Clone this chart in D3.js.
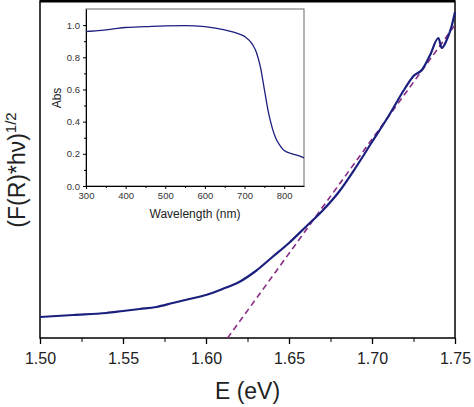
<!DOCTYPE html>
<html><head><meta charset="utf-8">
<script src="https://cdn.jsdelivr.net/npm/d3@7"></script>
<style>body{margin:0;background:#fff}text{font-family:Arial,"Liberation Sans",sans-serif}</style>
</head><body>
<svg id="c" width="474" height="407"></svg>
<script>
// main curve: energy (eV) vs (F(R)*hv)^1/2 (arbitrary units)
const mainE = [1.50,1.52,1.54,1.55,1.56,1.57,1.58,1.59,1.60,1.61,1.62,1.63,1.64,1.65,1.66,1.67,1.68,1.69,1.70,1.71,1.72,1.725,1.73,1.735,1.74,1.742,1.745,1.748,1.75];
const mainV = [21,23,25,27,29,31,35,39,43,49,56,67,81,95,111,127,146,170,196,222,250,262,268,283,300,290,298,312,326];
const fitE = [1.613,1.75];
const fitV = [0,313];
// inset: absorbance vs wavelength
const wl  = [300,330,350,380,400,450,500,550,600,650,680,700,720,730,740,750,760,770,780,790,800,820,840,850];
const abs = [0.96,0.965,0.97,0.98,0.985,0.99,0.995,0.997,0.99,0.97,0.95,0.93,0.88,0.83,0.74,0.6,0.46,0.36,0.29,0.25,0.22,0.2,0.185,0.175];
const xTicks = [1.50,1.55,1.60,1.65,1.70,1.75];
const insetXTicks = [300,400,500,600,700,800];
const insetYTicks = [0,0.2,0.4,0.6,0.8,1.0];

const svg = d3.select("#c");
const L=40,R=455,T=1,B=338;
const x = d3.scaleLinear().domain([1.5,1.75]).range([L,R]);
const y = d3.scaleLinear().domain([0,338]).range([B,B-338]);
const navy="#1b1f7e";

svg.append("rect").attr("x",L).attr("y",T).attr("width",R-L).attr("height",B-T)
  .attr("fill","none").attr("stroke","#000").attr("stroke-width",1.5);
svg.append("line").attr("x1",L).attr("x2",R).attr("y1",1).attr("y2",1).attr("stroke","#000").attr("stroke-width",3);

const xa = svg.append("g").attr("transform",`translate(0,${B})`)
  .call(d3.axisBottom(x).tickValues(xTicks).tickFormat(d3.format(".2f")).tickSize(6).tickSizeOuter(0));
xa.select(".domain").remove();
xa.selectAll("text").attr("font-size",16).attr("dy","1.05em").attr("fill","#222");
xa.selectAll("line").attr("stroke-width",1.3);
svg.append("g").attr("transform",`translate(0,${B})`)
  .call(d3.axisBottom(x).tickValues(d3.range(1.525,1.75,0.05)).tickFormat("").tickSize(4))
  .select(".domain").remove();

svg.append("text").attr("x",(L+R)/2).attr("y",399).attr("text-anchor","middle").attr("font-size",23).attr("fill","#222").text("E (eV)");
const yl = svg.append("text").attr("transform","translate(25,170) rotate(-90)").attr("text-anchor","middle").attr("font-size",23).attr("fill","#222");
yl.append("tspan").text("(F(R)*hν)");
yl.append("tspan").attr("dy",-9).attr("font-size",15).text("1/2");

const g = svg.append("g");
g.append("clipPath").attr("id","clip").append("rect").attr("x",L).attr("y",T).attr("width",R-L).attr("height",B-T);
g.append("path").datum(fitE.map((e,i)=>[e,fitV[i]])).attr("clip-path","url(#clip)")
  .attr("d",d3.line().x(d=>x(d[0])).y(d=>y(d[1])))
  .attr("fill","none").attr("stroke","#8a2a86").attr("stroke-width",1.6).attr("stroke-dasharray","6,4");
g.append("path").datum(mainE.map((e,i)=>[e,mainV[i]]))
  .attr("d",d3.line().x(d=>x(d[0])).y(d=>y(d[1])).curve(d3.curveMonotoneX))
  .attr("fill","none").attr("stroke",navy).attr("stroke-width",2.2);

// inset
const iL=86,iR=304,iT=9,iB=186;
const ix = d3.scaleLinear().domain([300,850]).range([iL,iR]);
const iy = d3.scaleLinear().domain([0,1.1]).range([iB,iT]);
svg.append("rect").attr("x",iL).attr("y",iT).attr("width",iR-iL).attr("height",iB-iT)
  .attr("fill","#fff").attr("stroke","#666").attr("stroke-width",1);
const ixa = svg.append("g").attr("transform",`translate(0,${iB})`)
  .call(d3.axisBottom(ix).tickValues(insetXTicks).tickSize(3).tickSizeOuter(0));
ixa.selectAll("text").attr("font-size",9.5).attr("fill","#333");
svg.append("g").attr("transform",`translate(0,${iB})`)
  .call(d3.axisBottom(ix).tickValues(d3.range(350,850,100)).tickFormat("").tickSize(2)).select(".domain").remove();
const iya = svg.append("g").attr("transform",`translate(${iL},0)`)
  .call(d3.axisLeft(iy).tickValues(insetYTicks).tickFormat(d3.format(".1f")).tickSize(3).tickSizeOuter(0));
iya.selectAll("text").attr("font-size",9.5).attr("fill","#333");
svg.append("g").attr("transform",`translate(${iL},0)`)
  .call(d3.axisLeft(iy).tickValues(d3.range(0.1,1.1,0.2)).tickFormat("").tickSize(2)).select(".domain").remove();
svg.append("text").attr("x",(iL+iR)/2).attr("y",218).attr("text-anchor","middle").attr("font-size",12).attr("fill","#222").text("Wavelength (nm)");
svg.append("text").attr("transform","translate(61,98) rotate(-90)").attr("text-anchor","middle").attr("font-size",12).attr("fill","#222").text("Abs");
svg.append("path").datum(wl.map((w,i)=>[w,abs[i]]))
  .attr("d",d3.line().x(d=>ix(d[0])).y(d=>iy(d[1])).curve(d3.curveMonotoneX))
  .attr("fill","none").attr("stroke",navy).attr("stroke-width",1.3);
</script>
</body></html>
